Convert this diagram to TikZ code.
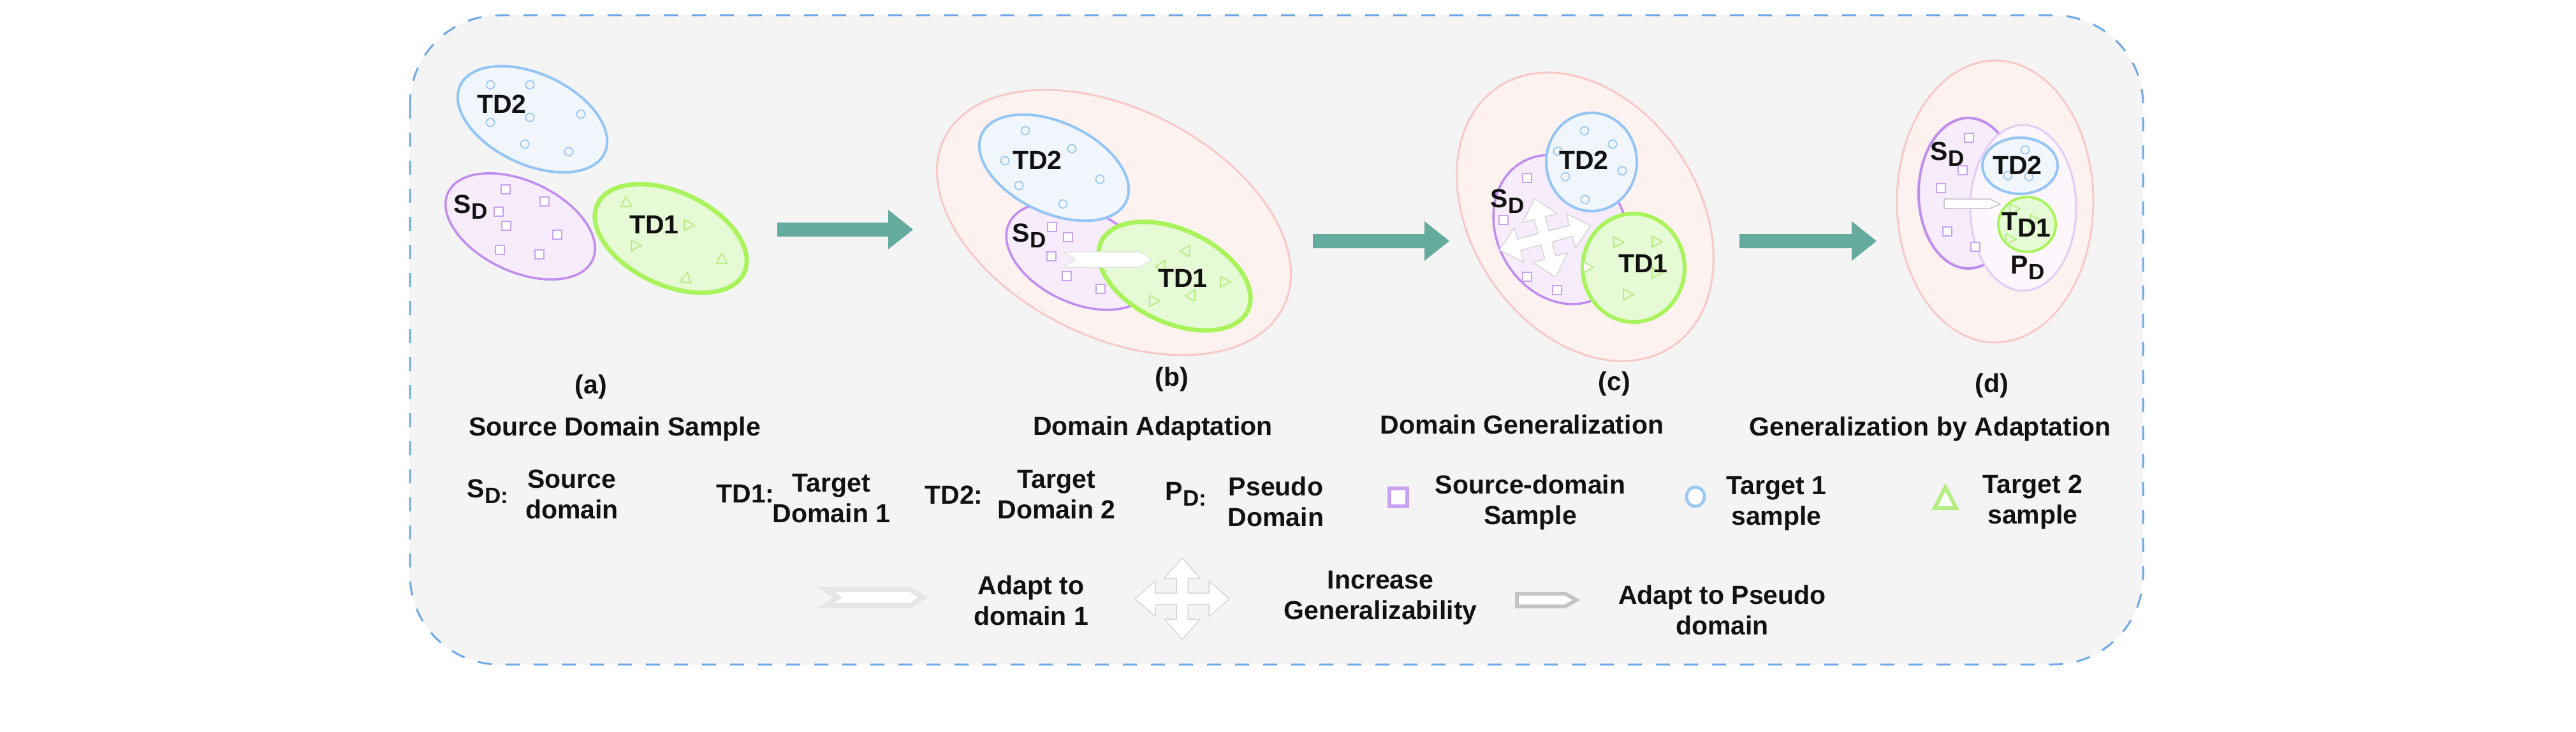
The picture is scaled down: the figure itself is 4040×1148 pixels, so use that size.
\documentclass[tikz,border=0pt]{standalone}
\usepackage{fontspec}
\setmainfont{Liberation Sans}
\definecolor{framefill}{HTML}{F4F4F4}
\definecolor{framedash}{HTML}{6FA8E6}
\definecolor{tdtwo}{HTML}{93C5F6}
\definecolor{tdtwofill}{HTML}{F1F6FC}
\definecolor{sdline}{HTML}{C18CF0}
\definecolor{sdfill}{HTML}{F6ECFC}
\definecolor{tdone}{HTML}{A9F45C}
\definecolor{tdonefill}{HTML}{E6FAD6}
\definecolor{pinkline}{HTML}{F8C9C6}
\definecolor{pinkfill}{HTML}{FDF2EF}
\definecolor{arrowteal}{HTML}{65AB9D}
\definecolor{pdline}{HTML}{E4CBF6}
\definecolor{pdfill}{HTML}{FDF7FD}
\definecolor{markpurple}{HTML}{C9A2F1}
\definecolor{markblue}{HTML}{9CC9F4}
\definecolor{markgreen}{HTML}{B5EE80}
\definecolor{quadgray}{HTML}{D6D6D6}
\definecolor{chevlight}{HTML}{E6E6E6}
\definecolor{chevgray}{HTML}{C4C4C4}
\definecolor{labeltxt}{HTML}{111111}

\newcommand\lowsub[1]{\raisebox{-9pt}{\fontsize{35pt}{40pt}\selectfont #1}}
\newcommand\lowsame[1]{\raisebox{-10pt}{#1}}
\newcommand\mksq[2]{\draw[sqsty, shift={(#1,#2)}] (-7,-7) rectangle (7,7);}
\newcommand\mkci[2]{\draw[cirsty] (#1,#2) circle[radius=6.5];}
\newcommand\mktri[3]{\draw[tristy, shift={(#1,#2)}, rotate=#3] (0,-10) -- (8.5,6) -- (-8.5,6) -- cycle;}
\newcommand\quadarr[3]{\draw[quadsty, shift={(#1,#2)}, rotate=#3]
  (0,-64) -- (28,-32) -- (9,-32) -- (9,-9) -- (42,-9) -- (42,-28) -- (74,0) -- (42,28) -- (42,9) -- (9,9)
  -- (9,32) -- (28,32) -- (0,64) -- (-28,32) -- (-9,32) -- (-9,9) -- (-42,9) -- (-42,28) -- (-74,0)
  -- (-42,-28) -- (-42,-9) -- (-9,-9) -- (-9,-32) -- (-28,-32) -- cycle;}

\tikzset{
  lbl/.style={font=\bfseries\fontsize{41pt}{48pt}\selectfont, inner sep=0pt, text=labeltxt},
  legtxt/.style={lbl, align=center, anchor=north},
  ttl/.style={lbl, anchor=base},
  outerpink/.style={draw=pinkline, fill=pinkfill, line width=3pt},
  tdtwosty/.style={draw=tdtwo, fill=tdtwofill, line width=4pt},
  sdsty/.style={draw=sdline, fill=sdfill, line width=3.5pt},
  tdonesty/.style={draw=tdone, fill=tdonefill, line width=7pt},
  pdsty/.style={draw=pdline, fill=pdfill, line width=3pt},
  sqsty/.style={draw=markpurple, fill=white, line width=1.8pt},
  cirsty/.style={draw=markblue, line width=1.8pt},
  tristy/.style={draw=markgreen, line width=1.8pt, line join=round},
  quadsty/.style={draw=quadgray, fill=white, line width=1.5pt, line join=round},
  bigarrow/.style={fill=arrowteal},
}

\begin{document}
\begin{tikzpicture}[x={(1pt,0pt)}, y={(0pt,-1pt)}]
\useasboundingbox (0,0) rectangle (4040,1148);
\fill[white] (0,0) rectangle (4040,1148);
\draw[draw=framedash, fill=framefill, line width=3pt, dash pattern=on 22pt off 22pt, rounded corners=140pt] (643,24) rectangle (3361,1042);

% ---------- panel (a)
\draw[tdtwosty, rotate around={-25:(835,187)}] (835,187) ellipse [x radius=125, y radius=71];
\foreach \p/\q in {769/133,831/133,911/179,831/184,769/192,823/226,892/238} {\mkci{\p}{\q}}
\draw[sdsty, rotate around={-25:(816,355)}] (816,355) ellipse [x radius=125, y radius=71];
\foreach \p/\q in {793/297,854/316,782/332,794/354,874/368,784/392,846/399} {\mksq{\p}{\q}}
\draw[tdonesty, rotate around={-25:(1052,374)}] (1052,374) ellipse [x radius=127, y radius=73];
\mktri{982}{318}{0} \mktri{1079}{353}{-90} \mktri{996}{385}{-90} \mktri{1132}{407}{0} \mktri{1076}{437}{-10}
\node[lbl] (atd2) at (787,163) {TD2};
\node[lbl] (asd) at (738,325) {S\lowsub{D}};
\node[lbl] (atd1) at (1026,352) {TD1};

% arrow a->b
\fill[bigarrow] (1219,349) -- (1393,349) -- (1393,329) -- (1432,360) -- (1393,391) -- (1393,371) -- (1219,371) -- cycle;

% ---------- panel (b)
\draw[outerpink, rotate around={-26.5:(1747,349)}] (1747,349) ellipse [x radius=297, y radius=179];
\draw[sdsty, rotate around={-25:(1693,402)}] (1693,402) ellipse [x radius=122, y radius=73];
\foreach \p/\q in {1650/356,1675/372,1649/402,1673/433,1726/453} {\mksq{\p}{\q}}
\draw[tdtwosty, rotate around={-25:(1653,263)}] (1653,263) ellipse [x radius=125, y radius=71];
\foreach \p/\q in {1608/205,1681/233,1576/252,1725/281,1598/291,1667/320} {\mkci{\p}{\q}}
\draw[tdonesty, rotate around={-25:(1842,433)}] (1842,433) ellipse [x radius=127, y radius=73];
\mktri{1861}{393}{-30} \mktri{1822}{417}{-30} \mktri{1920}{442}{-90} \mktri{1869}{463}{-30} \mktri{1809}{472}{-90}
\draw[draw=chevlight, fill=white, line width=1.5pt, line join=round] (1668,395) -- (1788,395) -- (1806,407) -- (1788,419) -- (1668,419) -- (1687,407) -- cycle;
\node[lbl] (btd2) at (1627,251) {TD2};
\node[lbl] (bsd) at (1614,370) {S\lowsub{D}};
\node[lbl] (btd1) at (1855,436) {TD1};

% arrow b->c
\fill[bigarrow] (2059,367) -- (2234,367) -- (2234,347) -- (2273,378) -- (2234,409) -- (2234,389) -- (2059,389) -- cycle;

% ---------- panel (c)
\draw[outerpink, rotate around={-56:(2486,340)}] (2486,340) ellipse [x radius=245, y radius=178];
\draw[sdsty, rotate around={-60:(2448,360)}] (2448,360) ellipse [x radius=122, y radius=100];
\foreach \p/\q in {2395/279,2358/345,2395/434,2442/455} {\mksq{\p}{\q}}
\draw[tdtwosty] (2496,254) ellipse [x radius=71, y radius=77];
\foreach \p/\q in {2485/205,2529/226,2443/237,2544/268,2455/277,2486/313} {\mkci{\p}{\q}}
\draw[tdonesty, line width=6pt] (2562,420) ellipse [x radius=80, y radius=85];
\mktri{2537}{380}{-90} \mktri{2597}{379}{-90} \mktri{2597}{428}{-90} \mktri{2552}{462}{-90}
\draw[tristy, fill=white, shift={(2489,419)}, rotate=-90] (0,-10) -- (8.5,6) -- (-8.5,6) -- cycle;
\quadarr{2423}{373}{15}
\node[lbl] (ctd2) at (2484,251) {TD2};
\node[lbl] (csd) at (2364,316) {S\lowsub{D}};
\node[lbl] (ctd1) at (2577,413) {TD1};

% arrow c->d
\fill[bigarrow] (2728,367) -- (2904,367) -- (2904,347) -- (2943,378) -- (2904,409) -- (2904,389) -- (2728,389) -- cycle;

% ---------- panel (d)
\draw[outerpink] (3129,316) ellipse [x radius=154, y radius=221];
\draw[sdsty, line width=4pt] (3087,303) ellipse [x radius=78, y radius=118];
\draw[pdsty] (3173,326) ellipse [x radius=83, y radius=130];
\foreach \p/\q in {3088/216,3078/267,3044/295,3054/363,3098/387} {\mksq{\p}{\q}}
\draw[tdtwosty] (3168,260) ellipse [x radius=59, y radius=44];
\foreach \p/\q in {3176/235,3149/275,3182/277} {\mkci{\p}{\q}}
\draw[tdonesty, line width=4pt] (3179,352) ellipse [x radius=45, y radius=43];
\mktri{3158}{328}{-90} \mktri{3190}{345}{-90} \mktri{3152}{375}{-90}
\draw[draw=chevgray, fill=white, line width=1.5pt, line join=round] (3049,312) -- (3120,312) -- (3137,320) -- (3120,327) -- (3049,327) -- cycle;
\node[lbl] (dsd) at (3054,242) {S\lowsub{D}};
\node[lbl] (dtd2) at (3164,259) {TD2};
\node[lbl] (dtd1) at (3178,352) {T\lowsame{D1}};
\node[lbl] (dpd) at (3180,420) {P\lowsub{D}};

% ---------- captions
\node[ttl] (capa) at (927,617) {(a)};
\node[ttl] (tita) at (964,683) {Source Domain Sample};
\node[ttl] (capb) at (1838,605) {(b)};
\node[ttl] (titb) at (1808,682) {Domain Adaptation};
\node[ttl] (capc) at (2532,612) {(c)};
\node[ttl] (titc) at (2387,680) {Domain Generalization};
\node[ttl] (capd) at (3124,615) {(d)};
\node[ttl] (titd) at (3027,683) {Generalization by Adaptation};

% ---------- legend row 1
\node[ttl] (ksd) at (765,780) {S\lowsub{D:}};
\node[legtxt] (ksdt) at (897,737) {Source\\domain};
\node[ttl] (ktd1) at (1169,788) {TD1:};
\node[legtxt] (ktd1t) at (1304,743) {Target\\Domain 1};
\node[ttl] (ktd2) at (1496,790) {TD2:};
\node[legtxt] (ktd2t) at (1657,737) {Target\\Domain 2};
\node[ttl] (kpd) at (1860,784) {P\lowsub{D:}};
\node[legtxt] (kpdt) at (2001,748) {Pseudo\\Domain};
\draw[draw=markpurple, fill=white, line width=6pt] (2179,766) rectangle (2207,794);
\node[legtxt] (ksq) at (2400,745) {Source-domain\\Sample};
\draw[draw=markblue, fill=white, line width=5pt] (2659,779) ellipse [x radius=14, y radius=15];
\node[legtxt] (kci) at (2786,747) {Target 1\\sample};
\draw[draw=markgreen, fill=white, line width=6pt, line join=miter] (3051,764) -- (3068,797) -- (3034,797) -- cycle;
\node[legtxt] (ktr) at (3188,745) {Target 2\\sample};

% ---------- legend row 2
\draw[draw=chevlight, fill=white, line width=8pt, line join=miter] (1294,924) -- (1427,924) -- (1447,937) -- (1427,950) -- (1294,950) -- (1314,937) -- cycle;
\node[legtxt] (kad1) at (1617,903) {Adapt to\\domain 1};
\quadarr{1854}{939}{0}
\node[legtxt] (kgen) at (2165,895) {Increase\\Generalizability};
\draw[draw=chevgray, fill=white, line width=6pt, line join=miter] (2379,931) -- (2455,931) -- (2472,941) -- (2455,951) -- (2379,951) -- cycle;
\node[legtxt] (kadp) at (2701,918) {Adapt to Pseudo\\domain};
\end{tikzpicture}
\end{document}
